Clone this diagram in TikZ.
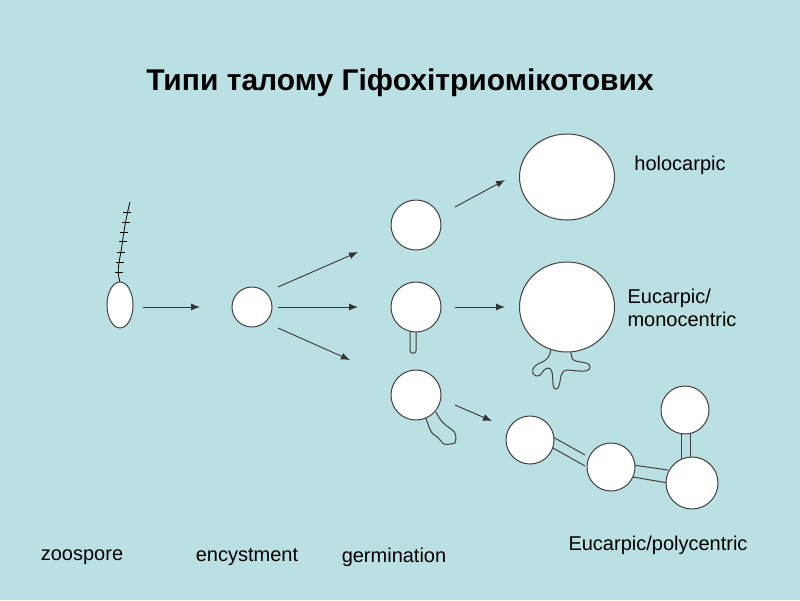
\documentclass[tikz,border=0pt]{standalone}
\usepackage{fontspec}
\setmainfont{Liberation Sans}
\usetikzlibrary{arrows.meta,shapes.geometric}

\definecolor{slidebg}{RGB}{187,224,227}
\tikzset{
  cell/.style={draw=black!75,fill=white,line width=1pt},
  go/.style={-{Latex[length=9pt,width=7pt]},line width=0.9pt,black!80},
  lbl/.style={font=\fontsize{20}{23}\selectfont},
}

\begin{document}
\begin{tikzpicture}[x=1pt,y=-1pt]
\fill[slidebg] (0,0) rectangle (800,600);
\useasboundingbox (0,0) rectangle (800,600);

% title
\node[font=\bfseries\fontsize{30}{34}\selectfont] (title) at (400,83) {Типи талому Гіфохітриомікотових};

% zoospore with flagellum
\draw[line width=0.8pt] (120,282) .. controls (116,270) and (120,260) .. (122,245)
  .. controls (124,230) and (126,218) .. (130,202);
\foreach \yy/\xx in {212/127,222/125.5,232/124,241/122.5,252/121,262/120,272/118.5} {
  \draw[line width=0.7pt] (\xx-4,\yy) -- (\xx+4,\yy);
}
\node[cell,ellipse,minimum width=26pt,minimum height=46pt,inner sep=0pt] (zoo) at (120,305) {};
\node[cell,circle,minimum size=40pt,inner sep=0pt] (enc) at (252,307) {};

% germination stages
\node[cell,circle,minimum size=50pt,inner sep=0pt] (g1) at (416,225) {};
\draw[cell,fill=none] (410,330) -- (410,351) .. controls (410,354) and (416,354) .. (416,351) -- (416,330);
\node[cell,circle,minimum size=50pt,inner sep=0pt] (g2) at (416,307) {};
\draw[cell,fill=none] (424,415) .. controls (430,425) and (428,432) .. (436,436)
  .. controls (444,442) and (440,447) .. (455,443) .. controls (457,437) and (456,432) .. (451,429)
  .. controls (444,424) and (441,422) .. (436,412);
\node[cell,circle,minimum size=50pt,inner sep=0pt] (g3) at (416,395) {};

\coordinate (e1) at (278,287); \coordinate (e2) at (278,307); \coordinate (e3) at (278,328);
\coordinate (t1) at (358,252); \coordinate (t2) at (358,307); \coordinate (t3) at (350,360);
\draw[go] (e1) -- (t1);
\draw[go] (e2) -- (t2);
\draw[go] (e3) -- (t3);
\coordinate (zs) at (143,307); \coordinate (zt) at (200,307);
\draw[go] (zs) -- (zt);

% mature thalli
\node[cell,ellipse,minimum width=95pt,minimum height=86pt,inner sep=0pt] (holo) at (567,177) {};
\draw[cell,fill=none] (551,348) .. controls (550,356) and (548,360) .. (540,363)
  .. controls (532,366) and (530,374) .. (536,376) .. controls (542,378) and (542,368) .. (548,368)
  .. controls (556,368) and (550,390) .. (556,389) .. controls (562,388) and (558,372) .. (566,370)
  .. controls (574,370) and (590,374) .. (590,367) .. controls (590,360) and (574,364) .. (572,358)
  -- (570,348);
\node[cell,ellipse,minimum width=95pt,minimum height=90pt,inner sep=0pt] (mono) at (567,307) {};

% polycentric
\draw[cell] (553,437) -- (585,455);
\draw[cell] (553,448) -- (585,466);
\draw[cell] (633,465) -- (668,470);
\draw[cell] (633,477) -- (668,483);
\draw[cell] (681,432) -- (681,460);
\draw[cell] (690,432) -- (690,460);
\node[cell,circle,minimum size=48pt,inner sep=0pt] (p1) at (530,440) {};
\node[cell,circle,minimum size=48pt,inner sep=0pt] (p2) at (611,467) {};
\node[cell,circle,minimum size=48pt,inner sep=0pt] (p3) at (685,410) {};
\node[cell,circle,minimum size=52pt,inner sep=0pt] (p4) at (692,483) {};

\coordinate (h1) at (455,207); \coordinate (h2) at (505,180);
\coordinate (m1) at (455,307); \coordinate (m2) at (505,307);
\coordinate (q1) at (455,405); \coordinate (q2) at (492,421);
\draw[go] (h1) -- (h2);
\draw[go] (m1) -- (m2);
\draw[go] (q1) -- (q2);

% labels
\node[lbl] (lholo) at (680,165) {holocarpic};
\node[lbl,align=left,anchor=west] (lmono) at (624,308) {Eucarpic/\\monocentric};
\node[lbl] (lpoly) at (658,545) {Eucarpic/polycentric};
\node[lbl] (lzoo) at (82,557) {zoospore};
\node[lbl] (lenc) at (247,557) {encystment};
\node[lbl] (lger) at (394,557) {germination};
\end{tikzpicture}
\end{document}
